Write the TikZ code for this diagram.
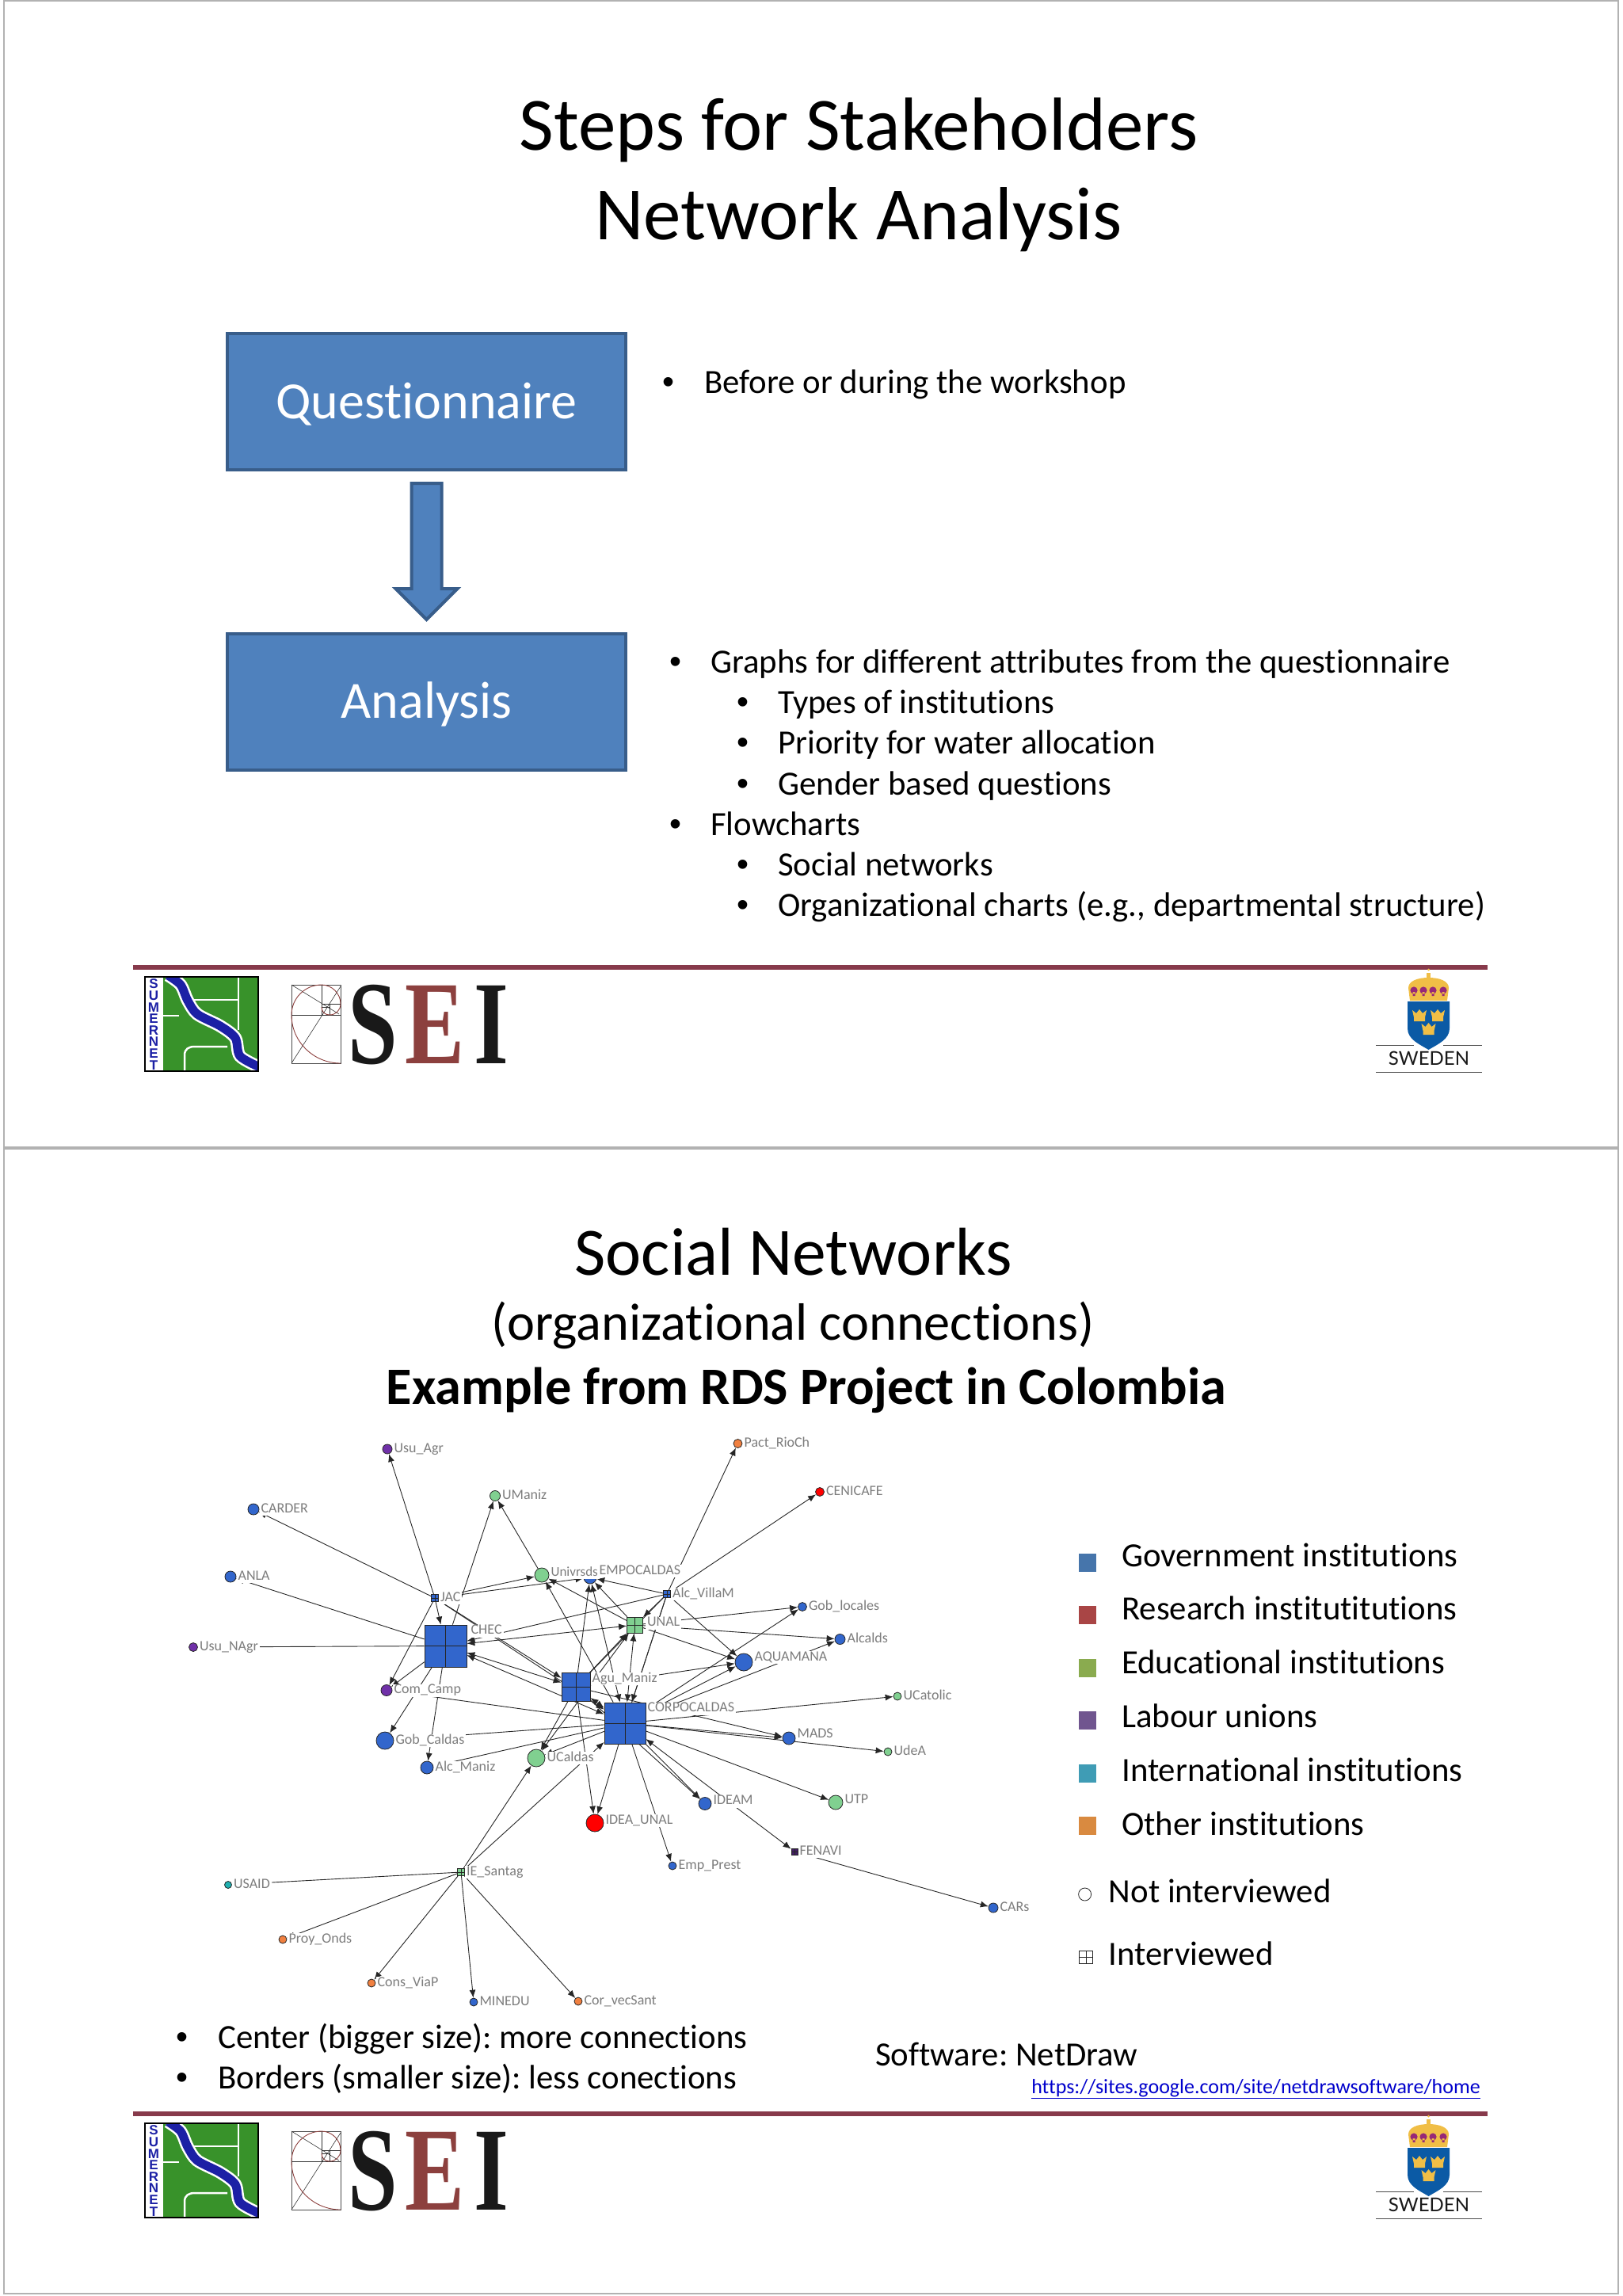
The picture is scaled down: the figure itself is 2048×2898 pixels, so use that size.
\documentclass[tikz,border=0pt]{standalone}
\usepackage{fontspec}
\setmainfont{Carlito}[Ligatures=NoCommon]
\newfontfamily\seifont{Liberation Serif}
\newfontfamily\armfont{Liberation Sans}
\newfontfamily\swefont{Lato}
\usetikzlibrary{shapes.arrows,arrows.meta,positioning,backgrounds}
\frenchspacing
\definecolor{boxblue}{RGB}{79,129,189}
\definecolor{boxedge}{RGB}{56,93,138}
\definecolor{rulered}{RGB}{135,58,75}
\definecolor{seired}{RGB}{140,64,62}
\definecolor{netblue}{RGB}{50,102,204}
\definecolor{netgreen}{RGB}{128,208,144}
\definecolor{netpurple}{RGB}{112,48,168}
\definecolor{netorange}{RGB}{240,128,64}
\definecolor{netteal}{RGB}{32,176,176}
\definecolor{labgray}{RGB}{125,125,125}
\definecolor{riverblue}{RGB}{28,32,165}
\definecolor{landgreen}{RGB}{56,146,42}
\definecolor{shieldblue}{RGB}{11,90,165}
\definecolor{crownyellow}{RGB}{240,190,70}
\definecolor{crownpurple}{RGB}{150,40,120}
\definecolor{keyblue}{RGB}{70,117,171}
\definecolor{keyred}{RGB}{169,69,69}
\definecolor{keygreen}{RGB}{138,171,79}
\definecolor{keypurple}{RGB}{112,85,143}
\definecolor{keyteal}{RGB}{63,156,181}
\definecolor{keyorange}{RGB}{217,138,64}
\newcommand{\bulA}{\makebox[53pt][l]{\armfont •}}
\newcommand{\bulB}{\makebox[52pt][l]{\armfont •}}
\tikzset{
  stepbox/.style={rectangle, draw=boxedge, fill=boxblue, line width=4pt, minimum width=503pt, minimum height=172pt, inner sep=0pt, outer sep=2pt, text=white, font=\fontsize{66}{78}\selectfont, text height=42pt, text depth=0pt},
  downarrow/.style={single arrow, shape border rotate=270, draw=boxedge, fill=boxblue, line width=4pt, minimum height=172pt, minimum width=74pt, single arrow head extend=20pt, single arrow head indent=0pt, single arrow tip angle=90, inner sep=17pt, outer sep=2pt},
  bodytxt/.style={anchor=west, inner sep=0pt, font=\fontsize{42.8}{50}\selectfont, text height=37pt, text depth=9pt},
  dot/.style={circle, draw=black!85, line width=.8pt, inner sep=0pt},
  gridbox/.style={rectangle, draw=black!85, line width=.8pt, inner sep=0pt, path picture={\draw[black!85, line width=.8pt] (path picture bounding box.north) -- (path picture bounding box.south) (path picture bounding box.west) -- (path picture bounding box.east);}},
  nodelab/.style={fill=white, text=labgray, inner xsep=2pt, inner ysep=0pt, font=\fontsize{18}{20}\selectfont, text height=12pt, text depth=4pt},
  lnk/.style={black!85, line width=.9pt, -{Latex[length=10pt,width=8pt]}},
  twolnk/.style={black!85, line width=.9pt, {Latex[length=10pt,width=8pt]}-{Latex[length=10pt,width=8pt]}},
  plainlnk/.style={black!85, line width=.9pt},
  keysq/.style={rectangle, minimum width=22.6pt, minimum height=23pt, inner sep=0pt},
  footer/.pic={
    % rule
    \fill[rulered] (168,1218) rectangle (1878,1224);
    % Sumernet logo
    \fill[landgreen] (206,1233) rectangle (326,1352);
    \begin{scope}
      \clip (206,1233) rectangle (326,1352);
      \draw[white, line width=2.5pt] (301,1233) -- (301,1300) (239,1262) -- (301,1262) (206,1282) -- (226,1282);
      \draw[white, line width=2.5pt] (233,1352) -- (233,1332) .. controls (233,1324) and (238,1321) .. (246,1321) -- (287,1321);
      \draw[white, line width=16pt] plot[smooth] coordinates {(212,1231) (228,1243) (237,1263) (249,1280) (278,1295) (297,1310) (303,1333) (328,1347)};
      \draw[riverblue, line width=11pt] plot[smooth] coordinates {(212,1231) (228,1243) (237,1263) (249,1280) (278,1295) (297,1310) (303,1333) (328,1347)};
    \end{scope}
    \draw[black, line width=1.5pt] (183,1233) rectangle (326,1352);
    \node[align=center, text=riverblue, inner sep=0pt, font=\armfont\bfseries\fontsize{17}{14.6}\selectfont] (sumer) at (194,1293) {S\\U\\M\\E\\R\\N\\E\\T};
    % golden spiral
    \draw[black!70, line width=.8pt] (368,1243) rectangle (430,1342);
    \draw[black!80, line width=.6pt] (368,1281) -- (430,1281) (406,1243) -- (406,1281) (406,1267) -- (430,1267) (416,1267) -- (416,1281) (406,1271) -- (416,1271);
    \draw[black!80, line width=.6pt] (368,1243) -- (428,1280) (368,1342) -- (430,1245);
    \draw[seired, line width=.9pt] (430,1342) .. controls (396,1342) and (368,1315) .. (368,1281) .. controls (368,1260) and (385,1243) .. (406,1243) .. controls (419,1243) and (430,1254) .. (430,1267) .. controls (430,1275) and (424,1281) .. (416,1281) .. controls (410,1281) and (406,1277) .. (406,1271);
    % SEI letters
    \node[anchor=base, inner sep=0pt, text=black!90] (sei-s) at (471,1342) {\seifont\bfseries\fontsize{150}{150}\selectfont\scalebox{.75}[1]{S}};
    \node[anchor=base, inner sep=0pt, text=seired] (sei-e) at (549,1342) {\seifont\bfseries\fontsize{150}{150}\selectfont\scalebox{.75}[1]{E}};
    \node[anchor=base, inner sep=0pt, text=black!90] (sei-i) at (620,1342) {\seifont\bfseries\fontsize{150}{150}\selectfont\scalebox{.75}[1]{I}};
    % Sweden
    \fill[crownyellow] (1801,1228) rectangle (1806,1236);
    \fill[crownyellow] (1803.5,1224) circle (1.5);
    \fill[crownyellow] (1780,1263) -- (1778,1247) .. controls (1778,1238) and (1790,1234) .. (1803.5,1234) .. controls (1817,1234) and (1829,1238) .. (1829,1247) -- (1827,1263) -- cycle;
    \foreach \cx in {1785,1797,1809,1822}
      \fill[crownpurple] (\cx,1250) circle (4.6) (\cx-1.5,1252) rectangle (\cx+1.5,1257);
    \fill[shieldblue] (1777,1264) -- (1830,1264) -- (1830,1298) .. controls (1830,1312) and (1815,1318) .. (1803.5,1325) .. controls (1792,1318) and (1777,1312) .. (1777,1298) -- cycle;
    \foreach \cx/\cy in {1792/1282,1815/1282,1803.5/1299}
      \fill[crownyellow] (\cx-9,\cy-7) -- (\cx-4,\cy-3) -- (\cx,\cy-8) -- (\cx+4,\cy-3) -- (\cx+9,\cy-7) -- (\cx+7,\cy+2) -- (\cx+7,\cy+7) -- (\cx-7,\cy+7) -- (\cx-7,\cy+2) -- cycle;
    \draw[black!70, line width=.8pt] (1737,1319) -- (1785,1319) (1822,1319) -- (1871,1319) (1737,1353) -- (1871,1353);
    \node[inner sep=0pt, text=black!90, font=\swefont\fontsize{24}{26}\selectfont] (swe) at (1804,1336) {SWEDEN};
  }
}

\begin{document}
\begin{tikzpicture}[x=1pt,y=-1pt]
\useasboundingbox (0,0) rectangle (2048,2898);
\draw[black!30, line width=2pt] (5,1) rectangle (2043,1448);
\draw[black!30, line width=2pt] (5,1450) rectangle (2043,2895);

% first slide
\node[align=center, inner sep=0pt, font=\fontsize{95}{113}\selectfont] (title1) at (1084,220.5) {Steps for Stakeholders\\Network Analysis};
\node[stepbox] (quest) at (538.5,507) {Questionnaire};
\node[downarrow, below=13pt of quest] (arrowdown) {};
\node[stepbox, below=13pt of arrowdown] (anal) {Analysis};

\node[bodytxt] (b1) at (836,482) {\bulA Before or during the workshop};
\node[bodytxt] (c1) at (845,835) {\bulB Graphs for different attributes from the questionnaire};
\node[bodytxt] (c2) at (930,886) {\bulB Types of institutions};
\node[bodytxt] (c3) at (930,937) {\bulB Priority for water allocation};
\node[bodytxt] (c4) at (930,989) {\bulB Gender based questions};
\node[bodytxt] (c5) at (845,1040) {\bulB Flowcharts};
\node[bodytxt] (c6) at (930,1091) {\bulB Social networks};
\node[bodytxt] (c7) at (930,1142) {\bulB Organizational charts (e.g., departmental structure)};

\pic (fa) at (0,0) {footer};

% second slide
\node[inner sep=0pt, font=\fontsize{85.5}{100}\selectfont] (title2) at (1002,1580) {Social Networks};
\node[inner sep=0pt, font=\fontsize{66.3}{78}\selectfont] (sub2) at (1001,1673) {(organizational connections)};
\node[inner sep=0pt, font=\bfseries\fontsize{66.3}{78}\selectfont] (sub3) at (1018,1755) {Example from RDS Project in Colombia};

% network nodes
\node[dot, fill=netblue, minimum size=16pt, label={[nodelab,yshift=8pt,xshift=1pt]right:EMPOCALDAS}] (empo) at (745,1991) {};
\node[dot, fill=netpurple, minimum size=12pt, label={[nodelab]right:Usu\_Agr}] (usuagr) at (489,1829) {};
\node[dot, fill=netgreen, minimum size=13pt, label={[nodelab]right:UManiz}] (umaniz) at (625,1888) {};
\node[dot, fill=netblue, minimum size=14pt, label={[nodelab]right:CARDER}] (carder) at (320,1905) {};
\node[dot, fill=netblue, minimum size=14pt, label={[nodelab]right:ANLA}] (anla) at (291,1990) {};
\node[dot, fill=netpurple, minimum size=11pt, label={[nodelab]right:Usu\_NAgr}] (usunagr) at (244,2079) {};
\node[gridbox, fill=netblue, minimum size=9pt, label={[nodelab]right:JAC}] (jac) at (549,2017) {};
\node[gridbox, fill=netblue, minimum size=53pt, label={[nodelab,anchor=north west,xshift=3pt]north east:CHEC}] (chec) at (562.5,2077.5) {};
\node[dot, fill=netpurple, minimum size=14pt, label={[nodelab]right:Com\_Camp}] (comcamp) at (488,2133.5) {};
\node[dot, fill=netblue, minimum size=22pt, label={[nodelab]right:Gob\_Caldas}] (gobcaldas) at (486,2197) {};
\node[dot, fill=netblue, minimum size=16pt, label={[nodelab]right:Alc\_Maniz}] (alcmaniz) at (539,2231) {};
\node[dot, fill=netgreen, minimum size=22pt, label={[nodelab]right:UCaldas}] (ucaldas) at (677,2219) {};
\node[gridbox, fill=netblue, minimum size=36pt, label={[nodelab,anchor=north west]north east:Agu\_Maniz}] (agumaniz) at (727,2129.5) {};
\node[gridbox, fill=netblue, minimum size=52pt, label={[nodelab,anchor=north west]north east:CORPOCALDAS}] (corpo) at (789,2175) {};
\node[dot, fill=netgreen, minimum size=18pt, label={[nodelab,yshift=3pt,font=\fontsize{17}{20}\selectfont]right:Univrsds}] (univ) at (684,1988) {};
\node[gridbox, fill=netgreen, minimum size=20pt, label={[nodelab,anchor=north west,xshift=3pt]north east:UNAL}] (unal) at (801.5,2051) {};
\node[dot, fill=netorange, minimum size=11pt, label={[nodelab]right:Pact\_RioCh}] (pact) at (931.5,1822) {};
\node[dot, fill=red, minimum size=11pt, label={[nodelab]right:CENICAFE}] (cenicafe) at (1035,1883) {};
\node[gridbox, fill=netblue, minimum size=9pt, label={[nodelab]right:Alc\_VillaM}] (alcvilla) at (842,2012) {};
\node[dot, fill=netblue, minimum size=11pt, label={[nodelab]right:Gob\_locales}] (goblocal) at (1013,2028) {};
\node[dot, fill=netblue, minimum size=13pt, label={[nodelab]right:Alcalds}] (alcalds) at (1060.5,2069) {};
\node[dot, fill=netblue, minimum size=22pt, label={[nodelab,yshift=6pt]right:AQUAMANA}] (aquamana) at (939,2098) {};
\node[dot, fill=netgreen, minimum size=10pt, label={[nodelab]right:UCatolic}] (ucatolic) at (1133,2141) {};
\node[dot, fill=netblue, minimum size=16pt, label={[nodelab,yshift=5pt]right:MADS}] (mads) at (996,2194) {};
\node[dot, fill=netgreen, minimum size=10pt, label={[nodelab]right:UdeA}] (udea) at (1121,2211) {};
\node[dot, fill=netgreen, minimum size=18pt, label={[nodelab,yshift=3pt]right:UTP}] (utp) at (1055,2275) {};
\node[dot, fill=netblue, minimum size=16pt, label={[nodelab,yshift=3pt]right:IDEAM}] (ideam) at (890,2276.5) {};
\node[dot, fill=red, minimum size=22pt, label={[nodelab,yshift=3pt]right:IDEA\_UNAL}] (ideaunal) at (751,2301) {};
\node[gridbox, fill=netpurple!60!black, minimum size=8pt, label={[nodelab]right:FENAVI}] (fenavi) at (1003,2337) {};
\node[dot, fill=netblue, minimum size=10pt, label={[nodelab]right:Emp\_Prest}] (empprest) at (849,2355) {};
\node[gridbox, fill=netgreen, minimum size=9pt, label={[nodelab]right:IE\_Santag}] (santag) at (582,2363) {};
\node[dot, fill=netteal, minimum size=9pt, label={[nodelab]right:USAID}] (usaid) at (288,2379) {};
\node[dot, fill=netorange, minimum size=10pt, label={[nodelab]right:Proy\_Onds}] (proy) at (357,2448) {};
\node[dot, fill=netorange, minimum size=10pt, label={[nodelab]right:Cons\_ViaP}] (cons) at (469,2503) {};
\node[dot, fill=netblue, minimum size=10pt, label={[nodelab]right:MINEDU}] (minedu) at (598,2527) {};
\node[dot, fill=netorange, minimum size=10pt, label={[nodelab]right:Cor\_vecSant}] (corvec) at (730,2526) {};
\node[dot, fill=netblue, minimum size=12pt, label={[nodelab]right:CARs}] (cars) at (1254,2408) {};

% network links
\begin{scope}[on background layer]
\foreach \a/\b in {jac/usuagr,jac/carder,chec/anla,chec/usunagr,jac/chec,jac/comcamp,chec/comcamp,chec/gobcaldas,chec/alcmaniz,chec/umaniz,jac/univ,jac/empo,jac/agumaniz,jac/corpo,univ/umaniz,alcvilla/chec,corpo/univ,unal/univ,alcvilla/empo,unal/empo,agumaniz/empo,agumaniz/unal,alcvilla/aquamana,alcvilla/pact,alcvilla/cenicafe,unal/goblocal,unal/alcalds,unal/aquamana,agumaniz/aquamana,corpo/aquamana,corpo/alcalds,corpo/goblocal,corpo/ucatolic,corpo/mads,agumaniz/mads,corpo/udea,corpo/utp,corpo/ideam,agumaniz/ideam,corpo/ideaunal,corpo/empprest,agumaniz/ideaunal,agumaniz/ucaldas,corpo/alcmaniz,corpo/gobcaldas,corpo/comcamp,corpo/ucaldas,santag/ucaldas,santag/corpo,santag/usaid,santag/proy,santag/cons,santag/minedu,santag/corvec,fenavi/cars,alcvilla/corpo,alcvilla/unal}
  \draw[lnk] (\a) -- (\b);
\foreach \a/\b in {chec/agumaniz,chec/corpo,chec/unal,agumaniz/corpo,unal/corpo,empo/corpo,ucaldas/unal,fenavi/corpo}
  \draw[twolnk] (\a) -- (\b);
\foreach \a/\b in {agumaniz/alcvilla,corpo/alcvilla}
  \draw[plainlnk] (\a) -- (\b);
\end{scope}

% legend
\node[keysq, fill=keyblue] (k1) at (1373,1972) {};
\node[keysq, fill=keyred] (k2) at (1373,2038.5) {};
\node[keysq, fill=keygreen] (k3) at (1373,2105) {};
\node[keysq, fill=keypurple] (k4) at (1373,2171) {};
\node[keysq, fill=keyteal] (k5) at (1373,2238) {};
\node[keysq, fill=keyorange] (k6) at (1373,2304) {};
\node[bodytxt] (t1) at (1416,1963) {Government institutions};
\node[bodytxt] (t2) at (1416,2030) {Research institutitutions};
\node[bodytxt] (t3) at (1416,2098) {Educational institutions};
\node[bodytxt] (t4) at (1416,2166) {Labour unions};
\node[bodytxt] (t5) at (1416,2234) {International institutions};
\node[bodytxt] (t6) at (1416,2302) {Other institutions};
\node[dot, fill=white, minimum size=16pt] (k7) at (1369.6,2391) {};
\node[gridbox, fill=white, minimum width=17pt, minimum height=16pt] (k8) at (1371,2470) {};
\node[bodytxt] (t7) at (1399.6,2387) {Not interviewed};
\node[bodytxt] (t8) at (1399.6,2466) {Interviewed};

% notes
\node[bodytxt] (n1) at (222,2571) {\bulA Center (bigger size): more connections};
\node[bodytxt] (n2) at (222,2622) {\bulA Borders (smaller size): less conections};
\node[bodytxt] (soft) at (1105,2593) {Software: NetDraw};
\node[anchor=east, inner sep=0pt, text=blue!80!black, font=\fontsize{26}{30}\selectfont] (url) at (1869,2637) {\underline{https://sites.google.com/site/netdrawsoftware/home}};

\pic (fb) at (0,1447) {footer};
\end{tikzpicture}
\end{document}
